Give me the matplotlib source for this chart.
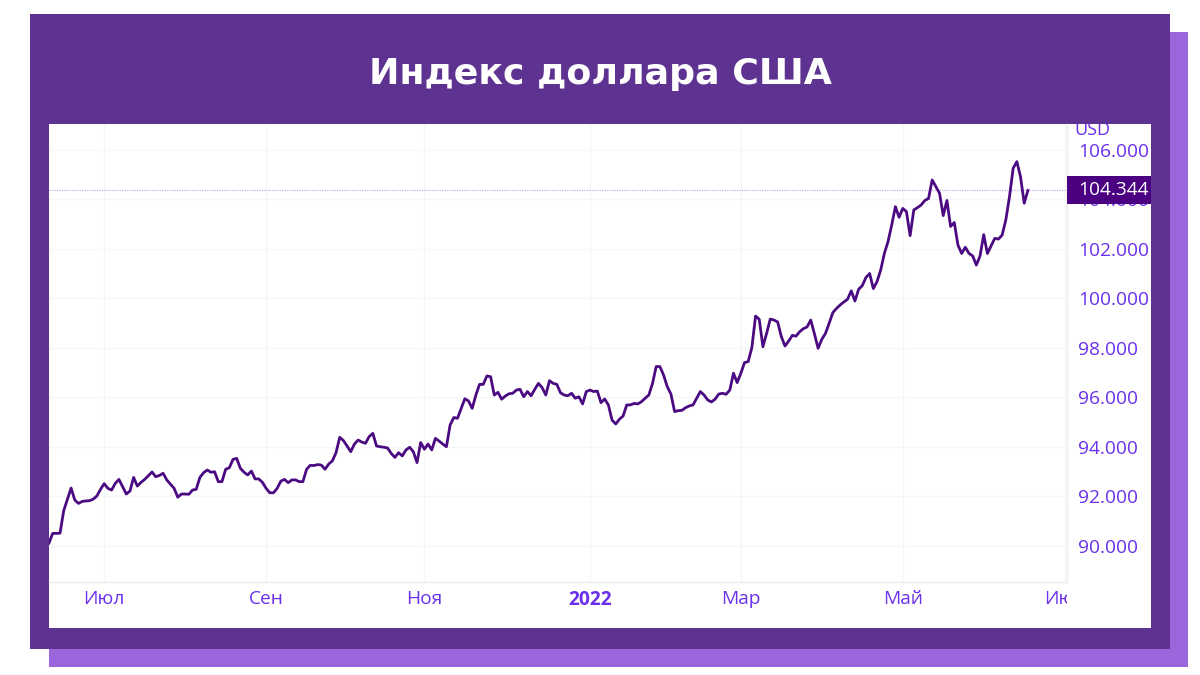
import numpy as np
import pandas as pd
from matplotlib import pyplot as plt
from matplotlib.patches import Rectangle
from matplotlib.transforms import Bbox

# dollar index, one close per business day
values = [
    90.10, 90.49, 90.49, 90.50, 91.41, 91.87, 92.32, 91.84, 91.70, 91.78, 91.80, 91.81, 91.87, 92.00,
    92.27, 92.50, 92.31, 92.24, 92.51, 92.67, 92.38, 92.08, 92.20, 92.75, 92.40, 92.55, 92.67, 92.82,
    92.97, 92.78, 92.83, 92.92, 92.65, 92.48, 92.31, 91.95, 92.08, 92.08, 92.07, 92.24, 92.27, 92.75,
    92.94, 93.05, 92.96, 92.98, 92.58, 92.58, 93.08, 93.14, 93.48, 93.52, 93.12,
    92.96, 92.85, 93.01, 92.69, 92.69, 92.55, 92.31, 92.13, 92.13, 92.31, 92.60, 92.67, 92.54,
    92.65, 92.65, 92.58, 92.58, 93.08, 93.24, 93.23, 93.27, 93.25, 93.08, 93.29, 93.42, 93.75, 94.37,
    94.24, 94.02, 93.79, 94.10, 94.26, 94.18, 94.13, 94.40, 94.53, 94.02, 93.99, 93.97, 93.94, 93.72,
    93.56, 93.75, 93.62, 93.86, 93.97, 93.79, 93.35, 94.16, 93.89, 94.10,
    93.86, 94.33, 94.22, 94.10, 93.99, 94.87, 95.17, 95.14, 95.54, 95.93, 95.84, 95.54, 96.08, 96.51,
    96.51, 96.85, 96.82, 96.08, 96.19, 95.91, 96.04, 96.13, 96.15, 96.28, 96.31, 96.01, 96.22, 96.05,
    96.31, 96.55, 96.38, 96.08, 96.66, 96.55, 96.51, 96.17, 96.08, 96.05, 96.15, 95.95, 96.01, 95.72,
    96.22, 96.28, 96.22, 96.24, 95.77, 95.92, 95.68, 95.07, 94.91, 95.10, 95.23, 95.68, 95.68, 95.74,
    95.72, 95.81, 95.95, 96.08, 96.55, 97.23, 97.23, 96.89, 96.42, 96.12, 95.41, 95.45, 95.46, 95.57,
    95.64, 95.68, 95.95, 96.22, 96.08, 95.88, 95.80, 95.91, 96.12, 96.15, 96.11, 96.28, 96.96, 96.58,
    96.96, 97.39, 97.43,
    98.00, 99.27, 99.14, 98.03, 98.57, 99.15, 99.11, 99.03, 98.44, 98.06, 98.26, 98.49, 98.46, 98.64,
    98.76, 98.83, 99.11, 98.55, 97.97, 98.33, 98.57, 98.98, 99.41, 99.58, 99.72, 99.84, 99.95, 100.29,
    99.88, 100.35, 100.50, 100.83, 100.99, 100.38, 100.66, 101.13, 101.80, 102.28, 102.95, 103.69,
    103.26, 103.62, 103.49, 102.52, 103.56, 103.65, 103.76, 103.94, 104.02, 104.77, 104.50, 104.23,
    103.33, 103.94, 102.89, 103.05, 102.14, 101.80, 102.05, 101.80, 101.70, 101.33, 101.70, 102.56,
    101.80, 102.10, 102.41, 102.38, 102.54, 103.15, 104.09, 105.24, 105.51, 104.90, 103.83, 104.344,
]
start_date = '2021-06-10'
month_starts = ['2021-07-01', '2021-09-01', '2021-11-01', '2022-01-03', '2022-03-01', '2022-05-02', '2022-07-01']
month_labels = ['Июл', 'Сен', 'Ноя', '2022', 'Мар', 'Май', 'Июл']
price_ticks = [90, 92, 94, 96, 98, 100, 102, 104, 106]
last_price = 104.344

DARK = '#5e3290'
LIGHT = '#9b66db'
LINE = '#4b0a82'
LABEL = '#6a30ee'
GRID = '#f6f6f8'

plt.rcParams['font.family'] = ['Open Sans', 'DejaVu Sans']

fig = plt.figure(figsize=(12, 6.75), dpi=100)

# background blocks, in pixels
bg = fig.add_axes([0, 0, 1, 1])
bg.set_xlim(0, 1200)
bg.set_ylim(675, 0)
bg.axis('off')
bg.add_patch(Rectangle((49, 32), 1139, 635, color=LIGHT, lw=0))
bg.add_patch(Rectangle((30, 14), 1140, 635, color=DARK, lw=0))
bg.add_patch(Rectangle((49, 124), 1102, 504, color='white', lw=0))
bg.text(600, 74, 'Индекс доллара США', color='white', fontsize=26.2, fontweight='bold',
        family='DejaVu Sans', ha='center', va='center')

# chart area, 49..1067 x 124..582 px
ax = fig.add_axes([49 / 1200, 1 - 582 / 675, 1018 / 1200, 458 / 675])
ax.patch.set_alpha(0)

dates = pd.bdate_range(start_date, periods=290)
x = np.arange(len(values))
ax.plot(x, values, color=LINE, lw=2.0, solid_joinstyle='round', zorder=4)
ax.axhline(last_price, color='#c9aee6', lw=0.9, ls=(0, (1, 1)), zorder=3)

ax.set_xlim(0, 1018 / 3.68)
ax.set_ylim(90 - 36.5 / 24.75, 90 + 421.5 / 24.75)

tick_pos = dates.searchsorted(pd.to_datetime(month_starts))
ax.set_xticks(tick_pos)
ax.set_xticklabels(month_labels)
ax.yaxis.tick_right()
ax.set_yticks(price_ticks)
ax.set_yticklabels([f'{p:.3f}' for p in price_ticks])
ax.tick_params(axis='both', length=0, labelsize=13.8, labelcolor=LABEL)
ax.tick_params(axis='x', pad=6)
ax.tick_params(axis='y', pad=8)
ax.grid(True, color=GRID, lw=1)
ax.set_axisbelow(True)

for side in ['top', 'left']:
    ax.spines[side].set_visible(False)
for side in ['bottom', 'right']:
    ax.spines[side].set_color('#ececf0')
    ax.spines[side].set_linewidth(1)

fig.canvas.draw()
# last tick runs into the price scale and gets cut there
clip = Bbox([[49, 675 - 628], [1067, 675 - 124]])
labels = ax.get_xticklabels()
labels[3].set_fontweight('bold')
labels[-1].set_clip_box(clip)
labels[-1].set_clip_on(True)

# current price box sits on top of the 104 tick
tr = ax.get_yaxis_transform()
ax.add_patch(Rectangle((1, last_price - 14 / 24.75), 84 / 1018, 28 / 24.75, transform=tr,
                       color='#4b0082', lw=0, clip_on=False, zorder=5))
ax.text(1 + 82 / 1018, last_price, f'{last_price:.3f}', transform=tr, color='white', fontsize=13.8,
        ha='right', va='center', clip_on=False, zorder=6)

usd = ax.text(1 + 7 / 1018, 90 + (545.5 - 130) / 24.75, 'USD', transform=tr,
              color=LABEL, fontsize=13, ha='left', va='center', zorder=6)
usd.set_clip_box(Bbox([[1067, 0], [1151, 675 - 124]]))
usd.set_clip_on(True)

fig.savefig('out.png', dpi=100)
